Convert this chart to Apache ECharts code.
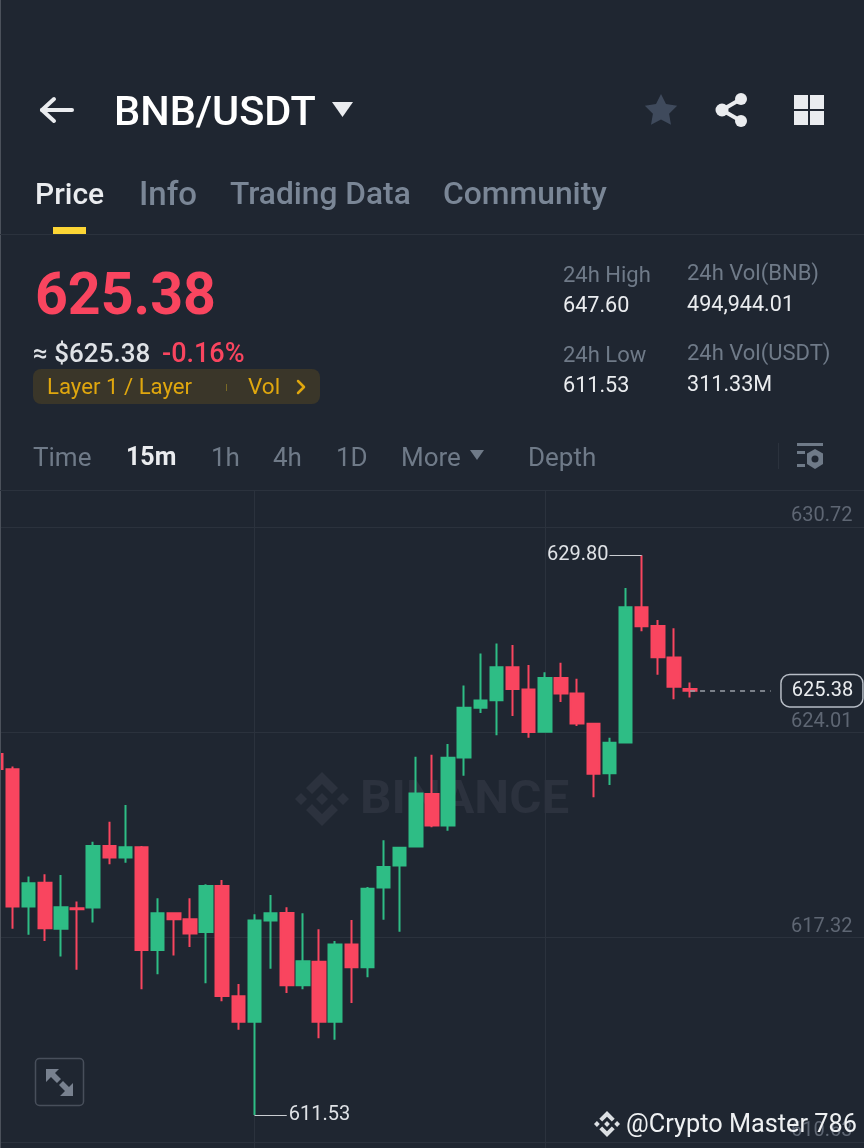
<!DOCTYPE html>
<html>
<head>
<meta charset="utf-8">
<title>BNB/USDT</title>
<style>
  html, body { margin: 0; padding: 0; background: #1f2631; }
  #main { width: 864px; height: 1148px; }
</style>
<script src="https://cdn.jsdelivr.net/npm/echarts@6/dist/echarts.min.js"></script>
</head>
<body>
<div id="main"></div>
<script>
// candle values, oldest first
const opens = [623.31, 622.81, 618.33, 619.11, 617.61, 618.28, 618.30, 620.31, 619.93, 620.27, 616.91,
  618.11, 617.92, 617.50, 619.00, 615.40, 614.57, 617.88, 618.12, 615.76, 616.53, 614.57,
  617.09, 616.35, 618.95, 619.67, 620.29, 622.01, 620.98, 623.20, 624.82, 625.07,
  626.14, 625.42, 624.04, 625.79, 625.29, 624.30, 622.68, 623.69, 628.10, 627.49, 626.46, 625.43];
const closes = [622.82, 618.33, 619.09, 617.62, 618.31, 618.24, 620.31, 619.93, 620.27, 616.91, 618.11,
  617.92, 617.45, 619.00, 615.41, 614.57, 617.88, 618.11, 615.76, 616.55, 614.57, 617.09,
  616.35, 618.91, 619.62, 620.25, 622.02, 620.98, 623.19, 624.82, 625.06, 626.14,
  625.43, 624.03, 625.79, 625.29, 624.31, 622.67, 623.68, 628.10, 627.48, 626.47, 625.51, 625.38];
const lows = [622.82, 617.61, 617.41, 617.21, 616.70, 616.27, 617.81, 619.71, 619.76, 615.63, 616.12,
  616.73, 617.01, 615.83, 615.24, 614.31, 611.53, 616.30, 615.51, 615.63, 614.03, 613.98,
  615.18, 616.02, 617.90, 617.51, 620.28, 620.92, 620.81, 622.60, 624.65, 623.92,
  624.55, 623.84, 624.04, 625.01, 624.23, 621.90, 622.30, 623.66, 627.32, 625.90, 625.10, 625.16];
const highs = [623.31, 622.90, 619.31, 619.39, 619.36, 618.50, 620.45, 621.10, 621.65, 620.31, 618.60,
  618.12, 618.60, 619.06, 619.20, 615.80, 618.08, 618.71, 618.31, 618.11, 617.59, 617.21,
  617.89, 618.97, 620.50, 620.27, 623.22, 623.29, 623.64, 625.55, 626.59, 626.92,
  626.87, 626.22, 625.98, 626.29, 625.77, 624.30, 623.84, 628.73, 629.80, 627.69, 627.42, 625.65];
const priceTicks = [630.72, 624.01, 617.32, 610.63];
const slotCount = 55; // chart leaves empty slots to the right of the last candle
const highPoint = { index: 40, price: 629.80 };
const lowPoint = { index: 16, price: 611.53 };
const lastPoint = { index: 43, price: 625.38 };

const BG = '#1f2631', UP = '#2ebd85', DOWN = '#f9455f', GRID = '#2b323d';
const MUTED = '#6f7a88', TAB = '#7a8696', WHITE = '#eaecef';
const FONT = 'Roboto, "Noto Sans", sans-serif';

function txt(x, y, text, size, fill, weight, extra) {
  return Object.assign({
    type: 'text', x: x, y: y + size * 0.08, z: 10,
    style: { text: text, fontSize: size, fill: fill, fontWeight: weight || 400, fontFamily: FONT, verticalAlign: 'middle', align: 'left' }
  }, extra || {});
}
function rect(x, y, w, h, fill, r, z) {
  return { type: 'rect', z: z || 10, shape: { x: x, y: y, width: w, height: h, r: r || 0 }, style: { fill: fill } };
}
function poly(points, fill, z) {
  return { type: 'polygon', z: z || 10, shape: { points: points }, style: { fill: fill } };
}
function stroke(points, color, width) {
  return { type: 'polyline', z: 10, shape: { points: points }, style: { stroke: color, lineWidth: width, fill: null, lineCap: 'round', lineJoin: 'round' } };
}
function dot(cx, cy, r, fill) {
  return { type: 'circle', z: 10, shape: { cx: cx, cy: cy, r: r }, style: { fill: fill } };
}
// binance diamond mark, scale s = half size
function logo(cx, cy, s, fill, z) {
  const k = s / 27;
  const p = pts => poly(pts.map(q => [cx + q[0] * k, cy + q[1] * k]), fill, z);
  return [
    p([[0, -27], [16, -11], [10, -5], [0, -15], [-10, -5], [-16, -11]]),
    p([[0, 27], [16, 11], [10, 5], [0, 15], [-10, 5], [-16, 11]]),
    p([[-21, -6], [-27, 0], [-21, 6], [-15, 0]]),
    p([[21, -6], [27, 0], [21, 6], [15, 0]]),
    p([[0, -6], [6, 0], [0, 6], [-6, 0]])
  ];
}
function star(cx, cy, r, fill) {
  const points = [];
  for (let i = 0; i < 10; i++) {
    const a = -Math.PI / 2 + i * Math.PI / 5;
    const rr = i % 2 ? r * 0.5 : r;
    points.push([cx + rr * Math.cos(a), cy + rr * Math.sin(a)]);
  }
  return poly(points, fill);
}

const chrome = [
  // left edge of the screenshot
  rect(0, 0, 1, 1148, '#4b515b'),
  // header
  stroke([[72, 110], [42, 110]], WHITE, 4),
  stroke([[54, 99], [42, 110], [54, 121]], WHITE, 4),
  txt(114, 111, 'BNB/USDT', 41.5, '#fff', 500),
  poly([[332, 102], [353, 102], [342.5, 117]], WHITE),
  star(661, 111, 17, '#3f4a5c'),
  stroke([[741, 99], [722, 110], [741, 121]], WHITE, 4),
  dot(741, 99, 6, WHITE), dot(722, 110, 6.5, WHITE), dot(741, 121, 6, WHITE),
  rect(794, 95, 14, 14, WHITE), rect(810, 95, 14, 14, WHITE),
  rect(794, 111, 14, 14, WHITE), rect(810, 111, 14, 14, WHITE),
  // tabs
  txt(35, 194, 'Price', 30, WHITE, 500),
  txt(139, 194, 'Info', 33, TAB, 500),
  txt(230, 194, 'Trading Data', 31.7, TAB, 500),
  txt(443, 194, 'Community', 31.8, TAB, 500),
  rect(53, 227, 33, 7, '#fcd535'),
  rect(0, 234, 864, 1, GRID),
  // price block, big digits are narrower than plain Roboto
  txt(35, 294, '625.38', 60, DOWN, 700, { scaleX: 0.955 }),
  txt(33, 353, '≈ $625.38', 26, '#dfe2e6', 500),
  txt(162, 353, '-0.16%', 27, DOWN, 500),
  rect(33, 369, 287, 35, '#3a3629', 8),
  txt(47, 387, 'Layer 1 / Layer', 22.2, '#e0a70e', 400),
  rect(226, 384, 1, 7, '#7a6a25'),
  txt(248, 387, 'Vol', 22.5, '#e0a70e', 400),
  stroke([[298, 381], [304, 387], [298, 393]], '#e0a70e', 2.5),
  // 24h stats
  txt(563, 275, '24h High', 22, MUTED),
  txt(563, 305, '647.60', 21.6, WHITE),
  txt(687, 273, '24h Vol(BNB)', 22, MUTED),
  txt(687, 304, '494,944.01', 21.6, WHITE),
  txt(563, 355, '24h Low', 22, MUTED),
  txt(563, 385, '611.53', 21.6, WHITE),
  txt(687, 353, '24h Vol(USDT)', 22, MUTED),
  txt(687, 384, '311.33M', 21.6, WHITE),
  // interval bar
  txt(33, 457, 'Time', 26, MUTED),
  txt(126, 457, '15m', 25, WHITE, 700),
  txt(211, 457, '1h', 26, MUTED),
  txt(273, 457, '4h', 26, MUTED),
  txt(336, 457, '1D', 26, MUTED),
  txt(401, 457, 'More', 26, MUTED),
  poly([[470, 450], [484, 450], [477, 460]], MUTED),
  txt(528, 457, 'Depth', 26, MUTED),
  rect(778, 443, 1, 26, GRID),
  rect(797, 443, 26, 3, MUTED),
  rect(797, 451, 8, 3, MUTED),
  rect(797, 464, 8, 3, MUTED),
  poly([[815, 449], [823, 453.5], [823, 464], [815, 469], [807, 464], [807, 453.5]], MUTED),
  dot(815, 459, 3.5, BG),
  rect(0, 490, 864, 1, GRID),
  // watermark sits under the candles
  ...logo(322, 799, 27, '#2c323e', 1),
  txt(360, 797, 'BINANCE', 47, '#2c323e', 700, { z: 1, scaleX: 1.05 }),
  // expand button
  { type: 'rect', z: 10, shape: { x: 35.5, y: 1058.5, width: 48, height: 47, r: 4 }, style: { fill: null, stroke: '#484f5b', lineWidth: 1.5 } },
  poly([[46, 1069], [59, 1069], [55, 1073], [61, 1079], [57, 1083], [51, 1077], [46, 1082]], '#78818f'),
  poly([[73, 1096], [60, 1096], [65, 1091], [59, 1085], [63, 1081], [69, 1087], [73, 1083]], '#78818f'),
  // author watermark
  ...logo(607, 1124, 13, '#dcdfe3', 20),
  txt(626, 1124, '@Crypto Master 786', 25.3, '#eef0f2', 400, { z: 20 })
];

const chart = echarts.init(document.getElementById('main'));
chart.setOption({
  backgroundColor: BG,
  animation: false,
  graphic: chrome,
  grid: { left: -3.6, right: -3.5, top: 490, bottom: 0, outerBoundsMode: 'none' },
  xAxis: {
    type: 'category',
    boundaryGap: false,
    data: Array.from({ length: slotCount }, (_, i) => i),
    axisLine: { show: false },
    axisTick: { show: false },
    axisLabel: { show: false },
    splitLine: {
      show: true,
      interval: i => i === 16 || i === 34,
      lineStyle: { color: GRID, width: 1 }
    }
  },
  yAxis: {
    type: 'value',
    position: 'right',
    scale: true,
    min: 610.45,
    max: 631.93,
    axisLine: { show: false },
    axisTick: { show: false, customValues: priceTicks },
    axisLabel: {
      inside: true,
      margin: 15,
      customValues: priceTicks,
      formatter: v => v.toFixed(2),
      color: '#5e6673',
      fontSize: 20,
      fontFamily: FONT,
      verticalAlign: 'bottom',
      lineHeight: 22,
      showMinLabel: true,
      showMaxLabel: true
    },
    splitLine: { show: true, lineStyle: { color: GRID, width: 1 } }
  },
  series: [{
    type: 'candlestick',
    barWidth: 13,
    data: opens.map((o, i) => [o, closes[i], lows[i], highs[i]]),
    itemStyle: { color: UP, color0: DOWN, borderColor: UP, borderColor0: DOWN, borderColorDoji: DOWN, borderWidth: 2 },
    markLine: {
      silent: true,
      symbol: 'none',
      animation: false,
      data: [
        [
          { coord: [highPoint.index, highPoint.price], lineStyle: { color: '#c9ccd1', width: 1, type: 'solid' } },
          { coord: [highPoint.index - 2, highPoint.price], label: { show: true, position: 'end', formatter: highPoint.price.toFixed(2), color: '#dfe2e6', fontSize: 20, fontFamily: FONT, distance: 1 } }
        ],
        [
          { coord: [lowPoint.index, lowPoint.price], lineStyle: { color: '#c9ccd1', width: 1, type: 'solid' } },
          { coord: [lowPoint.index + 2, lowPoint.price], label: { show: true, position: 'end', formatter: lowPoint.price.toFixed(2), color: '#dfe2e6', fontSize: 20, fontFamily: FONT, distance: 2 } }
        ],
        [
          { coord: [lastPoint.index, lastPoint.price], lineStyle: { color: '#9aa0a8', width: 1.5, type: [5, 5] } },
          {
            coord: [lastPoint.index + 5, lastPoint.price],
            label: {
              show: true, position: 'end', formatter: lastPoint.price.toFixed(2), color: '#eaecef', fontSize: 20, fontFamily: FONT,
              distance: 11, padding: [6, 9, 5, 10], borderColor: '#b7bdc6', borderWidth: 1.5, borderRadius: 8, backgroundColor: BG
            }
          }
        ]
      ]
    }
  }]
});
</script>
</body>
</html>
